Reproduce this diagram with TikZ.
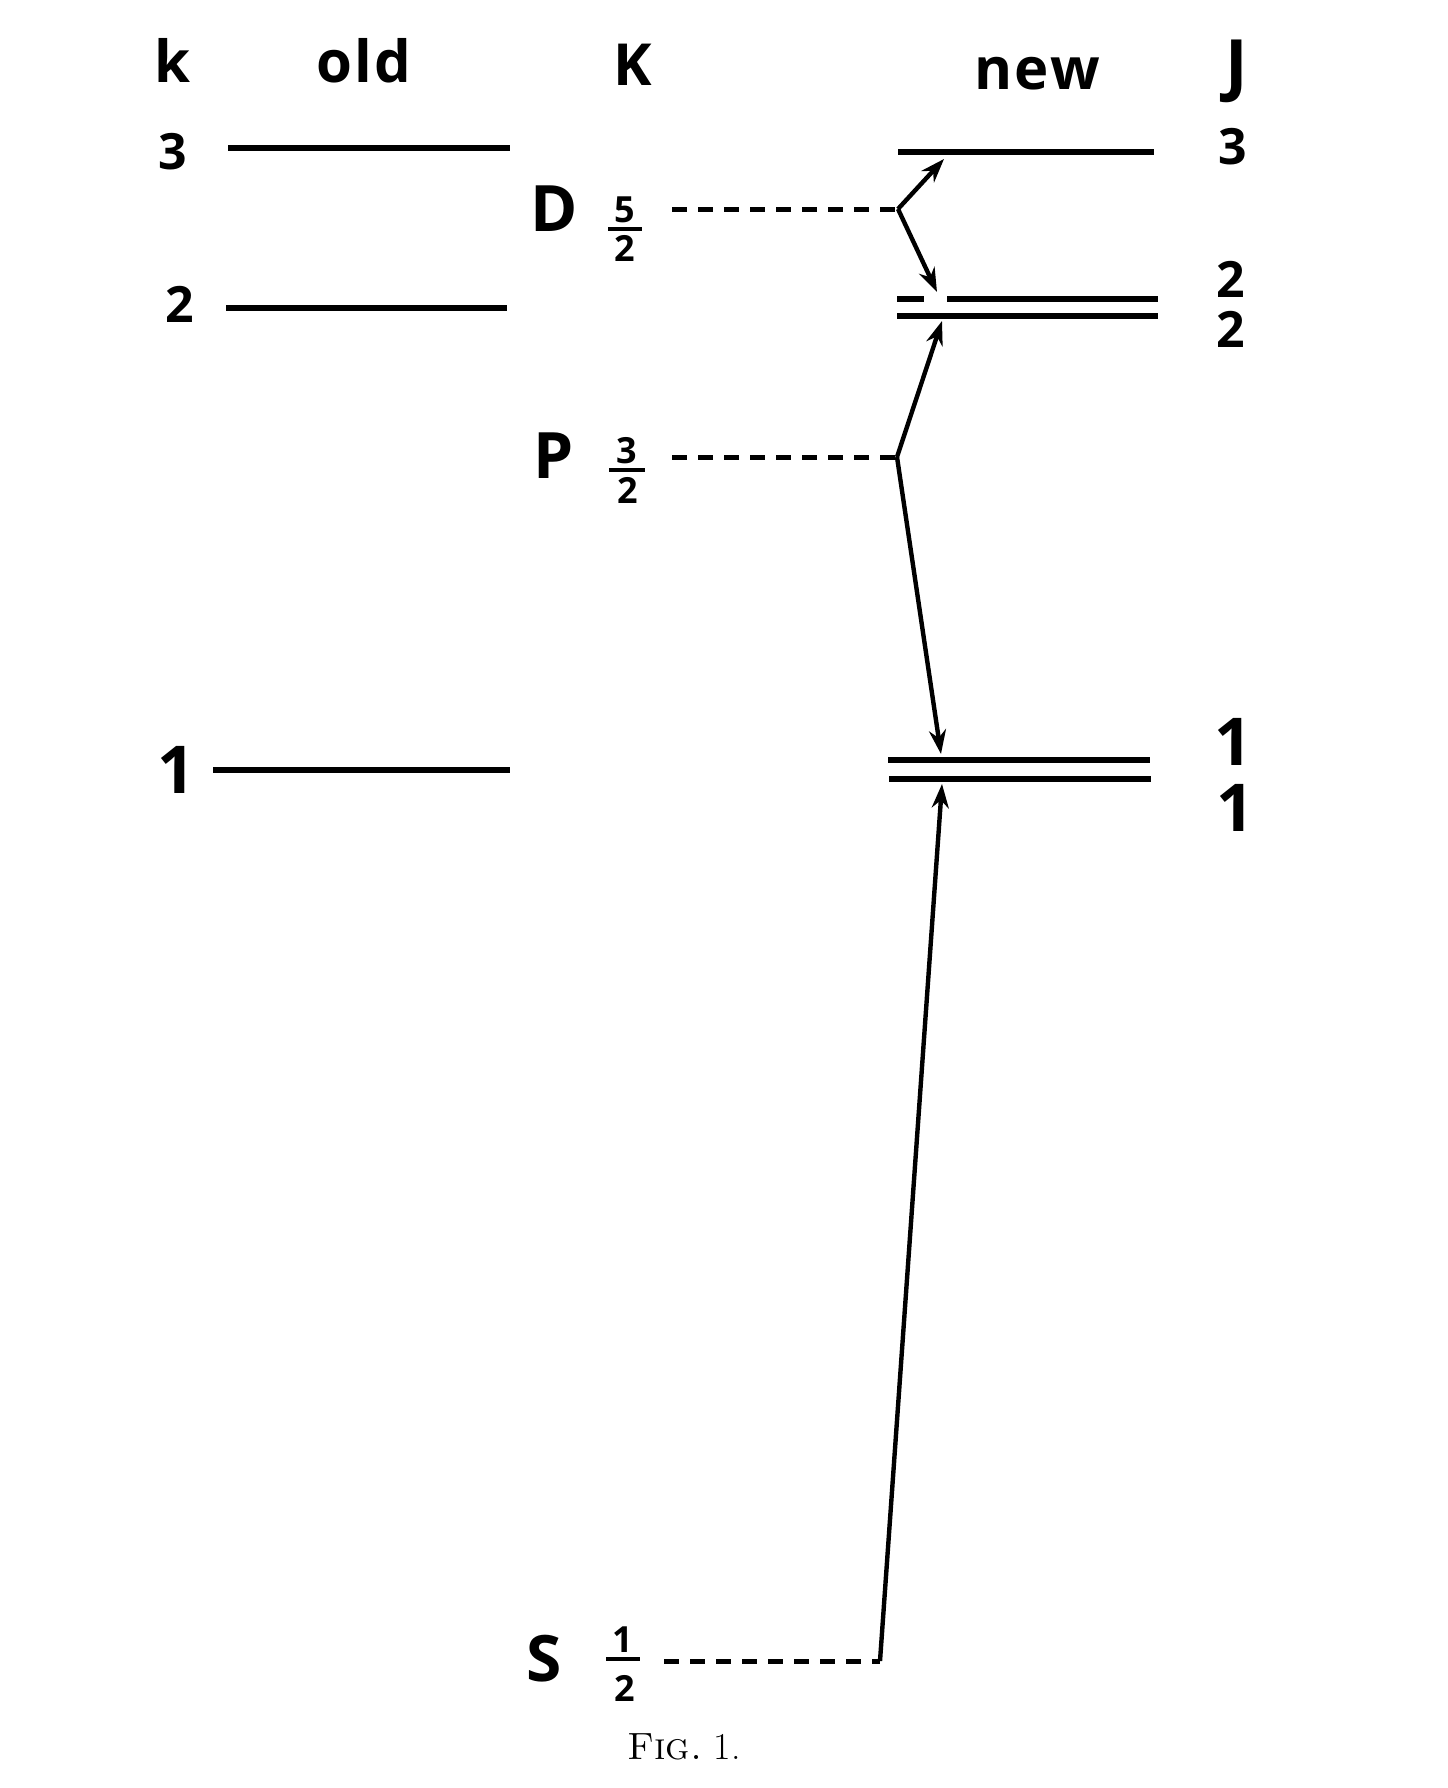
\documentclass[tikz,border=0pt]{standalone}
\usepackage{fontspec}
\newfontfamily\hand{Open Sans}
\newfontfamily\handsp{Open Sans}[LetterSpace=4]
\usetikzlibrary{arrows.meta}
\begin{document}
\begin{tikzpicture}[x=1pt,y=-1pt,
  level/.style={line width=5.6pt},
  dashline/.style={line width=5pt,dash pattern=on 15pt off 11pt},
  trans/.style={line width=4.4pt,-{Stealth[length=24pt,width=17pt]}},
  head/.style={font=\handsp\bfseries\fontsize{58}{58}\selectfont,inner sep=0pt,anchor=base},
  num/.style={font=\hand\bfseries\fontsize{50}{50}\selectfont,inner sep=0pt},
  one/.style={font=\hand\bfseries\fontsize{66}{66}\selectfont,inner sep=0pt},
  term/.style={font=\hand\bfseries\fontsize{64}{64}\selectfont,inner sep=0pt},
  fr/.style={font=\hand\bfseries\fontsize{36}{36}\selectfont,inner sep=0pt},
  fbar/.style={line width=4.6pt}]
\useasboundingbox (0,0) rectangle (1448,1788);
\fill[white] (0,0) rectangle (1448,1788);

% headers
\node[head] (hk) at (172,82) {k};
\node[head] (hold) at (364,82) {old};
\node[head] (hK) at (633,85) {K};
\node[head] (hnew) at (1037,89) {new};
\node[head,font=\hand\bfseries\fontsize{68}{68}\selectfont] (hJ) at (1237,88) {J};

% old levels
\coordinate (o3a) at (228,148); \coordinate (o3b) at (510,148);
\coordinate (o2a) at (226,308); \coordinate (o2b) at (507,308);
\coordinate (o1a) at (213,770); \coordinate (o1b) at (510,770);
\draw[level] (o3a) -- (o3b);
\draw[level] (o2a) -- (o2b);
\draw[level] (o1a) -- (o1b);
\node[num] (k3) at (173,152) {3};
\node[num] (k2) at (180,304) {2};
\node[one] (k1) at (176,770) {1};

% terms
\node[term] (D) at (554,209) {D};
\node[term] (P) at (554,456) {P};
\node[term] (S) at (544,1659) {S};

\node[fr] (D5) at (625,210) {5};
\coordinate (Dba) at (608,229); \coordinate (Dbb) at (642,229);
\draw[fbar] (Dba) -- (Dbb);
\node[fr] (D2) at (625,248) {2};

\node[fr] (P3) at (627,451) {3};
\coordinate (Pba) at (609,470); \coordinate (Pbb) at (645,470);
\draw[fbar] (Pba) -- (Pbb);
\node[fr] (P2) at (628,490) {2};

\node[fr] (S1) at (623,1640) {1};
\coordinate (Sba) at (606,1659); \coordinate (Sbb) at (640,1659);
\draw[fbar] (Sba) -- (Sbb);
\node[fr] (S2) at (625,1688) {2};

% dashed lines
\coordinate (Dd) at (672,209); \coordinate (Dj) at (898,209);
\coordinate (Pd) at (672,457); \coordinate (Pj) at (897,457);
\coordinate (Sd) at (664,1661); \coordinate (Sj) at (880,1661);
\draw[dashline] (Dd) -- (Dj);
\draw[dashline] (Pd) -- (Pj);
\draw[dashline] (Sd) -- (Sj);

% new levels
\coordinate (n3a) at (898,152); \coordinate (n3b) at (1154,152);
\coordinate (n2ua) at (897,299); \coordinate (n2ug) at (924,299);
\coordinate (n2uh) at (947,299); \coordinate (n2ub) at (1158,299);
\coordinate (n2la) at (897,316); \coordinate (n2lb) at (1158,316);
\coordinate (n1ua) at (888,760); \coordinate (n1ub) at (1150,760);
\coordinate (n1la) at (889,779); \coordinate (n1lb) at (1151,779);
\draw[level] (n3a) -- (n3b);
\draw[level] (n2ua) -- (n2ug);
\draw[level] (n2uh) -- (n2ub);
\draw[level] (n2la) -- (n2lb);
\draw[level] (n1ua) -- (n1ub);
\draw[level] (n1la) -- (n1lb);

\node[num] (j3) at (1233,147) {3};
\node[num] (j2u) at (1231,279) {2};
\node[num] (j2l) at (1231,329) {2};
\node[one] (j1u) at (1233,742) {1};
\node[one] (j1l) at (1235,808) {1};

% transitions
\coordinate (t3) at (944,159);
\coordinate (t2u) at (937,292);
\coordinate (t2l) at (942,321);
\coordinate (t1u) at (941,754);
\coordinate (t1l) at (942,784);
\draw[trans] (Dj) -- (t3);
\draw[trans] (Dj) -- (t2u);
\draw[trans] (Pj) -- (t2l);
\draw[trans] (Pj) -- (t1u);
\draw[trans] (Sj) -- (t1l);

% caption
\node[font=\fontsize{38}{38}\selectfont,inner sep=0pt] (cap) at (684,1747) {\textsc{Fig.}~1.};
\end{tikzpicture}
\end{document}
